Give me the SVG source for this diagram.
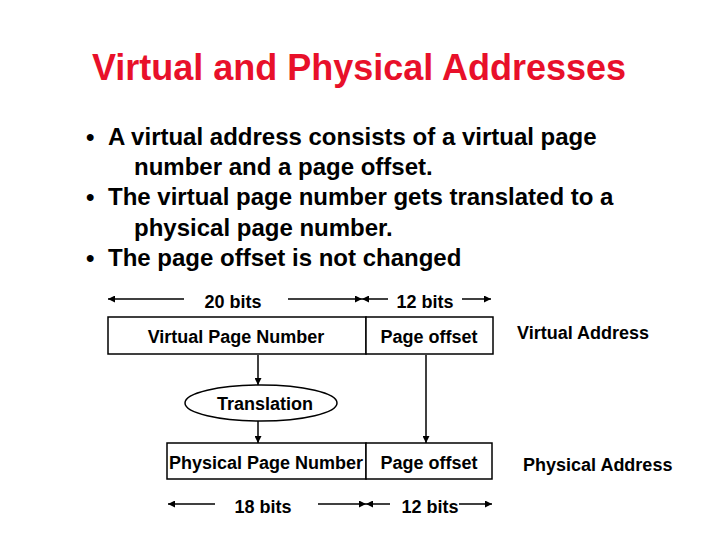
<svg xmlns="http://www.w3.org/2000/svg" width="720" height="540" viewBox="0 0 720 540">
<defs>
<marker id="ah" viewBox="0 0 10 10" refX="10" refY="5" markerWidth="7" markerHeight="7" markerUnits="userSpaceOnUse" orient="auto-start-reverse">
<path d="M0,0 L10,5 L0,10 z" fill="#000"/>
</marker>
<style>
.t{font-family:"Liberation Sans",Arial,sans-serif;font-weight:bold;fill:#000}
.title{font-size:36px;fill:#E8102A}
.b{font-size:24px}
.l{font-size:18px}
.box{fill:#fff;stroke:#000;stroke-width:1.5}
.c{stroke:#000;stroke-width:1.5;fill:none}
.ar{marker-end:url(#ah)}
.al{marker-start:url(#ah)}
</style>
</defs>
<rect width="720" height="540" fill="#fff"/>
<text class="t title" x="359" y="80" text-anchor="middle">Virtual and Physical Addresses</text>
<g id="bullets" class="t b">
<text x="86" y="145">•</text><text x="108" y="145">A virtual address consists of a virtual page</text>
<text x="134" y="175">number and a page offset.</text>
<text x="86" y="205">•</text><text x="108" y="205">The virtual page number gets translated to a</text>
<text x="134" y="236">physical page number.</text>
<text x="86" y="266">•</text><text x="108" y="266">The page offset is not changed</text>
</g>
<g id="connectors">
<line class="c al" x1="108" y1="299" x2="184" y2="299"/>
<line class="c ar" x1="288" y1="299" x2="362" y2="299"/>
<line class="c al" x1="362" y1="299" x2="388" y2="299"/>
<line class="c ar" x1="462" y1="299" x2="491" y2="299"/>
<line class="c ar" x1="258" y1="355" x2="258" y2="385"/>
<line class="c ar" x1="258" y1="421" x2="258" y2="443"/>
<line class="c ar" x1="426" y1="355" x2="426" y2="443"/>
<line class="c al" x1="168" y1="504" x2="215" y2="504"/>
<line class="c ar" x1="318" y1="504" x2="366" y2="504"/>
<line class="c al" x1="366" y1="504" x2="390" y2="504"/>
<line class="c ar" x1="459" y1="504" x2="492" y2="504"/>
</g>
<g id="bits-top" class="t l">
<text x="233" y="308" text-anchor="middle">20 bits</text>
<text x="425" y="308" text-anchor="middle">12 bits</text>
</g>
<g id="virtual-page-number">
<rect class="box" x="108" y="317" width="258" height="37"/>
<text class="t l" x="236" y="343" text-anchor="middle">Virtual Page Number</text>
</g>
<g id="virtual-page-offset">
<rect class="box" x="366" y="317" width="127" height="37"/>
<text class="t l" x="429" y="343" text-anchor="middle">Page offset</text>
</g>
<g id="virtual-address-label"><text class="t l" x="517" y="339">Virtual Address</text></g>
<g id="translation">
<ellipse cx="261" cy="403" rx="76" ry="18" fill="#fff" stroke="#000" stroke-width="1.5"/>
<text class="t l" x="265" y="410" text-anchor="middle">Translation</text>
</g>
<g id="physical-page-number">
<rect class="box" x="167" y="443" width="199" height="36"/>
<text class="t l" x="266" y="469" text-anchor="middle">Physical Page Number</text>
</g>
<g id="physical-page-offset">
<rect class="box" x="366" y="443" width="126" height="36"/>
<text class="t l" x="429" y="469" text-anchor="middle">Page offset</text>
</g>
<g id="physical-address-label"><text class="t l" x="523" y="471">Physical Address</text></g>
<g id="bits-bottom" class="t l">
<text x="263" y="513" text-anchor="middle">18 bits</text>
<text x="430" y="513" text-anchor="middle">12 bits</text>
</g>
</svg>
